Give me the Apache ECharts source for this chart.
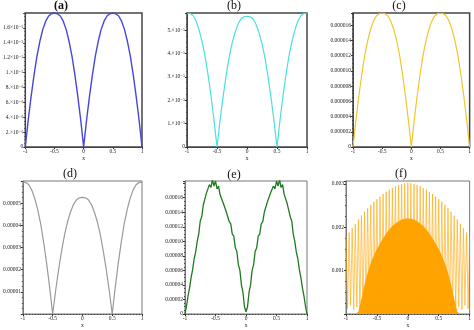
<!DOCTYPE html>
<html><head><meta charset="utf-8">
<script src="https://cdn.jsdelivr.net/npm/echarts@6/dist/echarts.min.js"></script>
<style>html,body{margin:0;padding:0;background:#fff}#c{width:474px;height:330px}</style>
</head><body><div id="c"></div>
<script>
const xs = [-1,-0.95,-0.9,-0.85,-0.8,-0.75,-0.7,-0.65,-0.6,-0.55,-0.5,-0.45,-0.4,-0.35,-0.3,-0.25,-0.2,-0.15,-0.1,-0.05,0,0.05,0.1,0.15,0.2,0.25,0.3,0.35,0.4,0.45,0.5,0.55,0.6,0.65,0.7,0.75,0.8,0.85,0.9,0.95,1];
const xsMid = [-0.975,-0.925,-0.875,-0.825,-0.775,-0.725,-0.675,-0.625,-0.575,-0.525,-0.475,-0.425,-0.375,-0.325,-0.275,-0.225,-0.175,-0.125,-0.075,-0.025,0.025,0.075,0.125,0.175,0.225,0.275,0.325,0.375,0.425,0.475,0.525,0.575,0.625,0.675,0.725,0.775,0.825,0.875,0.925,0.975];
const xTicks = [-1,-0.5,0,0.5,1];
const titles = ['(a)','(b)','(c)','(d)','(e)','(f)'];

const serA = [0,0.36e-5,0.68e-5,0.97e-5,1.22e-5,1.42e-5,1.58e-5,1.69e-5,1.76e-5,1.79e-5,1.80e-5,1.79e-5,1.76e-5,1.69e-5,1.58e-5,1.42e-5,1.22e-5,0.97e-5,0.68e-5,0.36e-5,0,0.36e-5,0.68e-5,0.97e-5,1.22e-5,1.42e-5,1.58e-5,1.69e-5,1.76e-5,1.79e-5,1.80e-5,1.79e-5,1.76e-5,1.69e-5,1.58e-5,1.42e-5,1.22e-5,0.97e-5,0.68e-5,0.36e-5,0];
const serB = [5.73e-5,5.71e-5,5.62e-5,5.40e-5,5.02e-5,4.53e-5,3.90e-5,3.10e-5,2.18e-5,1.15e-5,0,1.12e-5,2.12e-5,3.02e-5,3.80e-5,4.42e-5,4.89e-5,5.25e-5,5.48e-5,5.57e-5,5.59e-5,5.57e-5,5.48e-5,5.25e-5,4.89e-5,4.42e-5,3.80e-5,3.02e-5,2.12e-5,1.12e-5,0,1.15e-5,2.18e-5,3.10e-5,3.90e-5,4.53e-5,5.02e-5,5.40e-5,5.62e-5,5.71e-5,5.73e-5];
const serC = [0,0.35e-5,0.67e-5,0.95e-5,1.20e-5,1.39e-5,1.54e-5,1.65e-5,1.72e-5,1.75e-5,1.76e-5,1.75e-5,1.72e-5,1.65e-5,1.54e-5,1.39e-5,1.20e-5,0.95e-5,0.67e-5,0.35e-5,0,0.35e-5,0.67e-5,0.95e-5,1.20e-5,1.39e-5,1.54e-5,1.65e-5,1.72e-5,1.75e-5,1.76e-5,1.75e-5,1.72e-5,1.65e-5,1.54e-5,1.39e-5,1.20e-5,0.95e-5,0.67e-5,0.35e-5,0];
const serD = [5.95e-5,5.93e-5,5.83e-5,5.59e-5,5.21e-5,4.70e-5,4.05e-5,3.21e-5,2.26e-5,1.19e-5,0,1.05e-5,2.00e-5,2.84e-5,3.58e-5,4.16e-5,4.60e-5,4.94e-5,5.15e-5,5.24e-5,5.26e-5,5.24e-5,5.15e-5,4.94e-5,4.60e-5,4.16e-5,3.58e-5,2.84e-5,2.00e-5,1.05e-5,0,1.19e-5,2.26e-5,3.21e-5,4.05e-5,4.70e-5,5.21e-5,5.59e-5,5.83e-5,5.93e-5,5.95e-5];
const serEHigh = [0,0.25e-4,0.5e-4,0.76e-4,1.0e-4,1.28e-4,1.5e-4,1.66e-4,1.78e-4,1.85e-4,1.83e-4,1.76e-4,1.66e-4,1.54e-4,1.40e-4,1.24e-4,1.07e-4,0.86e-4,0.60e-4,0.30e-4,0.03e-4,0.30e-4,0.60e-4,0.86e-4,1.07e-4,1.24e-4,1.40e-4,1.54e-4,1.66e-4,1.76e-4,1.83e-4,1.85e-4,1.78e-4,1.66e-4,1.5e-4,1.28e-4,1.0e-4,0.76e-4,0.5e-4,0.25e-4,0];
const serELow = [0.11e-4,0.36e-4,0.61e-4,0.85e-4,1.10e-4,1.34e-4,1.52e-4,1.65e-4,1.74e-4,1.76e-4,1.72e-4,1.64e-4,1.53e-4,1.41e-4,1.27e-4,1.10e-4,0.91e-4,0.68e-4,0.40e-4,0.10e-4,0.10e-4,0.40e-4,0.68e-4,0.91e-4,1.10e-4,1.27e-4,1.41e-4,1.53e-4,1.64e-4,1.72e-4,1.76e-4,1.74e-4,1.65e-4,1.52e-4,1.34e-4,1.10e-4,0.85e-4,0.61e-4,0.36e-4,0.11e-4];
const serFHigh = [1.78e-3,1.88e-3,1.98e-3,2.08e-3,2.18e-3,2.27e-3,2.36e-3,2.44e-3,2.52e-3,2.59e-3,2.65e-3,2.71e-3,2.77e-3,2.82e-3,2.87e-3,2.91e-3,2.95e-3,2.98e-3,3.00e-3,3.02e-3,3.03e-3,3.02e-3,3.00e-3,2.98e-3,2.95e-3,2.91e-3,2.87e-3,2.82e-3,2.77e-3,2.71e-3,2.65e-3,2.59e-3,2.52e-3,2.44e-3,2.36e-3,2.27e-3,2.18e-3,2.08e-3,1.98e-3,1.88e-3,1.78e-3];
const serFLow = [0.12e-3,0.2e-3,0.1e-3,0.16e-3,0.1e-3,0.18e-3,0.12e-3,0.2e-3,0.1e-3,0.15e-3,0.12e-3,0.2e-3,0.1e-3,0.16e-3,0.1e-3,0.18e-3,0.12e-3,0.2e-3,0.1e-3,0.15e-3,0.15e-3,0.1e-3,0.2e-3,0.12e-3,0.18e-3,0.1e-3,0.16e-3,0.1e-3,0.2e-3,0.12e-3,0.15e-3,0.1e-3,0.2e-3,0.12e-3,0.18e-3,0.1e-3,0.16e-3,0.1e-3,0.2e-3,0.12e-3];
const serFInner = [0,0,0,0,0.05e-3,0.35e-3,0.68e-3,0.95e-3,1.17e-3,1.35e-3,1.5e-3,1.63e-3,1.75e-3,1.86e-3,1.95e-3,2.03e-3,2.09e-3,2.14e-3,2.18e-3,2.2e-3,2.21e-3,2.2e-3,2.18e-3,2.14e-3,2.09e-3,2.03e-3,1.95e-3,1.86e-3,1.75e-3,1.63e-3,1.5e-3,1.35e-3,1.17e-3,0.95e-3,0.68e-3,0.35e-3,0.05e-3,0,0,0,0];

const pairs = (v) => xs.map((x, i) => [x, v[i]]);
const zig = (hi, lo) => { const out = []; for (let i = 0; i < xs.length; i++) { out.push([xs[i], hi[i]]); if (i < xsMid.length) out.push([xsMid[i], lo[i]]); } return out; };

const FONT = 'Liberation Serif, DejaVu Serif, serif';
const grids = [
  {left: 24, top: 13, width: 118, height: 134},
  {left: 187, top: 13, width: 120, height: 134},
  {left: 353, top: 13, width: 120, height: 134},
  {left: 19, top: 181, width: 123, height: 136},
  {left: 185, top: 181, width: 122, height: 136},
  {left: 346, top: 181, width: 127, height: 136}
];
const near = (v, step) => Math.abs(v / step - Math.round(v / step)) < 1e-3;
const yFmt = [
  v => { if (!near(v, 2e-6)) return ''; const k = Math.round(v / 2e-6); if (k === 0) return '0'; if (k >= 9) return ''; if (k < 5) return (2 * k) + '.×10⁻⁶'; const m = (2 * k / 10); return (k === 5 ? '1.' : String(m)) + '×10⁻⁵'; },
  v => { if (!near(v, 1e-5)) return ''; const k = Math.round(v / 1e-5); return k === 0 ? '0' : k + '.×10⁻⁵'; },
  v => { if (!near(v, 2e-6)) return ''; const k = Math.round(v / 2e-6); if (k === 0) return '0'; if (k >= 9) return ''; return (k * 2e-6).toFixed(6); },
  v => { if (!near(v, 1e-5)) return ''; const k = Math.round(v / 1e-5); if (k === 0 || k >= 6) return ''; return (k * 1e-5).toFixed(5); },
  v => { if (!near(v, 2e-5)) return ''; const k = Math.round(v / 2e-5); if (k === 0) return '0'; if (k >= 9) return ''; return (k * 2e-5).toFixed(5); },
  v => { if (!near(v, 1e-3)) return ''; const k = Math.round(v / 1e-3); if (k === 0) return ''; return (k * 1e-3).toFixed(3); }
];
const yMax = [1.8e-5, 5.73e-5, 1.76e-5, 6.0e-5, 1.83e-4, 3.07e-3];
const yInt = [2e-6, 1e-5, 2e-6, 1e-5, 2e-5, 1e-3];
const frameColor = ['#444','#444','#444','#777','#777','#777'];

const xAxes = grids.map((g, i) => ({
  type: 'value', gridIndex: i, min: -1, max: 1, interval: 0.5,
  axisLine: {show: true, onZero: false, lineStyle: {color: frameColor[i], width: 1}},
  axisTick: {show: true, length: 2, lineStyle: {color: '#333'}},
  minorTick: {show: true, splitNumber: 10, length: 1, lineStyle: {color: '#444'}},
  splitLine: {show: false},
  axisLabel: {fontFamily: FONT, fontSize: 5.5, color: '#222', margin: 2, customValues: xTicks, formatter: v => String(v)},
  name: 'x', nameLocation: 'middle', nameGap: 9, nameTextStyle: {fontFamily: FONT, fontSize: 5.5, color: '#222'}
}));
const yAxes = grids.map((g, i) => ({
  type: 'value', gridIndex: i, min: 0, max: yMax[i], interval: yInt[i],
  axisLine: {show: true, onZero: false, lineStyle: {color: frameColor[i], width: 1}},
  axisTick: {show: true, length: 2, lineStyle: {color: '#333'}},
  minorTick: {show: true, splitNumber: 4, length: 1, lineStyle: {color: '#444'}},
  splitLine: {show: false},
  axisLabel: {fontFamily: FONT, fontSize: 5.5, color: '#222', margin: 2, formatter: yFmt[i]}
}));

const lineS = (i, data, color, w, extra) => Object.assign({
  type: 'line', xAxisIndex: i, yAxisIndex: i, data: data, showSymbol: false, symbol: 'none',
  lineStyle: {color: color, width: w}, itemStyle: {color: color}, animation: false, silent: true
}, extra || {});

const series = [
  lineS(0, pairs(serA), '#4646dc', 1.4),
  lineS(1, pairs(serB), '#48e0e0', 1.2),
  lineS(2, pairs(serC), '#f2c52e', 1.2),
  lineS(3, pairs(serD), '#9a9a9a', 1.2),
  lineS(4, zig(serEHigh, serELow), '#1f7a1f', 1.3),
  lineS(5, zig(serFHigh, serFLow), '#ffa500', 1, {lineStyle: {color: '#ffa500', width: 1, opacity: 0.6}}),
  lineS(5, pairs(serFInner), '#ffa500', 0, {lineStyle: {width: 0}, areaStyle: {color: '#ffa200', opacity: 1}})
];

const titlePos = [[61, 6], [234, 6], [399, 6], [70, 174], [234, 175], [401, 174]];
const graphics = titles.map((t, i) => ({
  type: 'text', x: titlePos[i][0], y: titlePos[i][1], silent: true,
  style: {text: t, fill: '#111', font: (i === 0 ? '600 ' : '') + '12px ' + FONT, textAlign: 'center', textVerticalAlign: 'middle'}
}));

const chart = echarts.init(document.getElementById('c'), null, {renderer: 'canvas'});
chart.setOption({
  animation: false,
  backgroundColor: '#fff',
  grid: grids.map((g, i) => Object.assign({show: true, borderColor: frameColor[i], borderWidth: i < 3 ? 1.5 : 1, backgroundColor: 'transparent'}, g)),
  xAxis: xAxes,
  yAxis: yAxes,
  series: series,
  graphic: graphics
});
</script></body></html>
